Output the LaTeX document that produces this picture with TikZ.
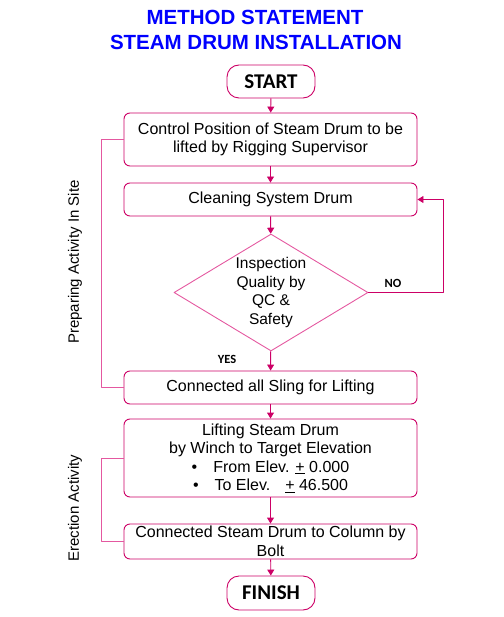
\documentclass[tikz,border=0pt]{standalone}
\usepackage{fontspec}
\setmainfont{Liberation Sans}
\newfontfamily\calib{Carlito}
\usetikzlibrary{shapes.geometric,arrows.meta}
\definecolor{mag}{RGB}{204,0,102}
\definecolor{pinkl}{RGB}{228,88,160}
\begin{document}
\begin{tikzpicture}[x=1pt,y=-1pt,line join=round,
	box/.style={draw=mag,line width=0.9pt,rounded corners=6pt,minimum width=293pt,inner sep=0pt,align=center,font=\fontsize{16}{18.5}\selectfont},
	term/.style={draw=mag,line width=0.9pt,rounded corners=12pt,minimum width=88pt,inner sep=0pt,font=\calib\bfseries\fontsize{21}{24}\selectfont},
	arr/.style={draw=mag,line width=0.9pt,-{Triangle[length=6pt,width=7pt]}},
	brk/.style={draw=pinkl,line width=0.9pt},
	lbl/.style={font=\calib\bfseries\fontsize{12.5}{14}\selectfont}]
	\useasboundingbox (0,0) rectangle (503,617);
	\node[text=blue,font=\bfseries\fontsize{20.5}{24}\selectfont] (t1) at (255,17) {METHOD STATEMENT};
	\node[text=blue,font=\bfseries\fontsize{20.5}{24}\selectfont] (t2) at (256,42) {STEAM DRUM INSTALLATION};
	\node[term,minimum height=33pt] (start) at (271,81.5) {START};
	\node[box,minimum height=53pt] (ctrl) at (270.5,139.5) {Control Position of Steam Drum to be\\lifted by Rigging Supervisor};
	\node[box,minimum height=33pt] (clean) at (270.5,199.5) {Cleaning System Drum};
	\node[draw=pinkl,line width=0.9pt,shape=diamond,aspect=1.66,minimum width=194pt,minimum height=117pt,inner sep=0pt,align=center,font=\fontsize{15.5}{18.5}\selectfont] (insp) at (271,292.5) {Inspection\\Quality by\\QC \&\\Safety};
	\node[box,minimum height=33pt] (sling) at (270.5,387.5) {Connected all Sling for Lifting};
	\node[box,minimum height=78pt] (lift) at (270.5,458) {Lifting Steam Drum\\by Winch to Target Elevation\\\textbullet\quad From Elev. \underline{+} 0.000\\\textbullet\quad To Elev.\hspace{9pt} \underline{+} 46.500};
	\node[box,minimum height=35pt] (bolt) at (270.5,541.5) {Connected Steam Drum to Column by\\Bolt};
	\node[term,minimum height=34pt] (finish) at (271,593) {FINISH};
	\node[lbl] (no) at (393,283) {NO};
	\node[lbl] (yes) at (227,359) {YES};
	\node[rotate=90,font=\fontsize{15}{18}\selectfont] (prep) at (75,262) {Preparing Activity In Site};
	\node[rotate=90,font=\fontsize{15}{18}\selectfont] (erec) at (75,508) {Erection Activity};
	% flow
	\draw[arr] (start) -- (ctrl);
	\draw[arr] (ctrl) -- (clean);
	\draw[arr] (clean) -- (insp);
	\draw[arr] (insp) -- (sling);
	\draw[arr] (sling) -- (lift);
	\draw[arr] (lift) -- (bolt);
	\draw[arr] (bolt) -- (finish);
	\draw[arr] (insp.east) -- ++(75,0) |- (clean.east);
	% brackets
	\draw[brk] (ctrl.west) -- ++(-22,0) |- (sling.west);
	\draw[brk] (lift.west) -- ++(-22,0) |- (bolt.west);
\end{tikzpicture}
\end{document}
